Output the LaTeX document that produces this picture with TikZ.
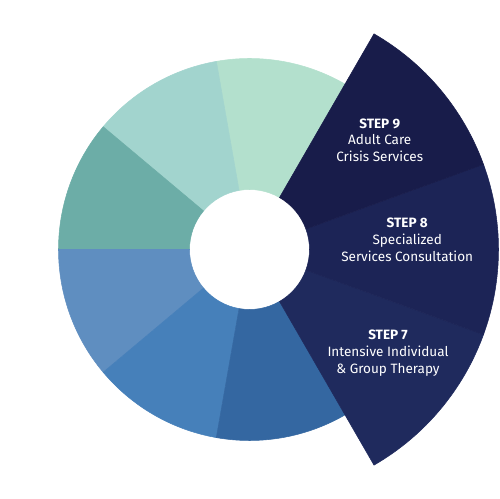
\documentclass[tikz,border=0pt]{standalone}
\usepackage{fontspec}
\setsansfont{Fira Sans}
\definecolor{mint}{HTML}{B3E0CD}
\definecolor{lteal}{HTML}{A2D4CE}
\definecolor{teal}{HTML}{6CADA7}
\definecolor{lsteel}{HTML}{5F8EC0}
\definecolor{mblue}{HTML}{4680BA}
\definecolor{dblue}{HTML}{3467A1}
\definecolor{navya}{HTML}{1F2A5D}
\definecolor{navyb}{HTML}{1C2456}
\definecolor{navyc}{HTML}{181C4A}

\begin{document}
\begin{tikzpicture}[x=0.02cm,y=0.02cm,
    seg/.style={line width=0.3pt},
    lbl/.style={text=white,align=center,font=\sffamily\fontsize{7.7}{9.6}\selectfont}]
    \useasboundingbox (-249.5,-249.5) rectangle (250.5,249.5);
    % ring
    \foreach \a/\col in {60/mint,100/lteal,140/teal,180/lsteel,220/mblue,260/dblue}
        \filldraw[seg,\col] (\a:60) arc[start angle=\a,end angle=\a+40,radius=60]
            -- (\a+40:191) arc[start angle=\a+40,end angle=\a,radius=191] -- cycle;
    % steps 7-9
    \foreach \a/\col in {-60/navya,-20/navyb,20/navyc}
        \filldraw[seg,\col] (\a:60) arc[start angle=\a,end angle=\a+40,radius=60]
            -- (\a+40:249) arc[start angle=\a+40,end angle=\a,radius=249] -- cycle;
    \node[lbl] (s9) at (40:170) {\textbf{STEP 9}\\Adult Care\\Crisis Services};
    \node[lbl] (s8) at (3.5:158) {\textbf{STEP 8}\\Specialized\\Services Consultation};
    \node[lbl] (s7) at (-36.8:173) {\textbf{STEP 7}\\Intensive Individual\\\& Group Therapy};
\end{tikzpicture}
\end{document}
